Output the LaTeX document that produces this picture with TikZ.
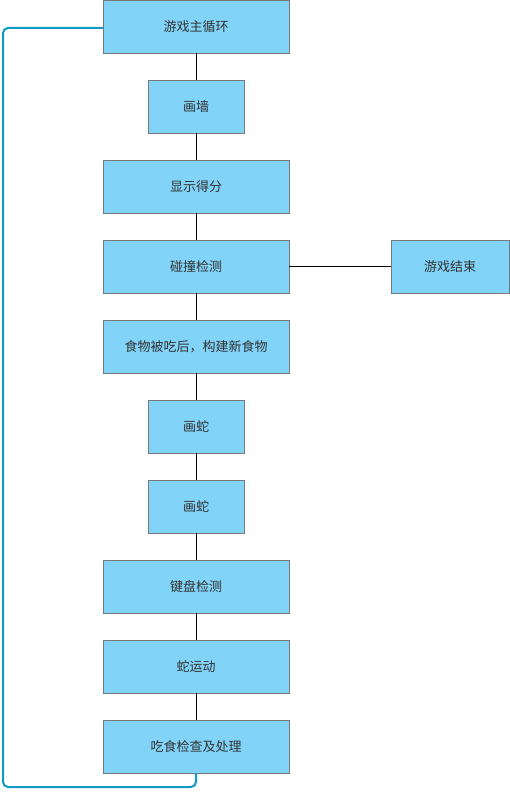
\documentclass[tikz,border=0pt]{standalone}
\usepackage{fontspec}
\newfontfamily\cjk{Noto Sans CJK SC}
\definecolor{boxfill}{HTML}{81D3F8}
\definecolor{boxline}{HTML}{797979}
\definecolor{loopblue}{HTML}{1199C8}
\definecolor{txt}{HTML}{333333}
\begin{document}
\begin{tikzpicture}[x=1pt, y=-1pt,
  every node/.style={font=\cjk\fontsize{13}{15}\selectfont, text=txt},
  wide/.style={draw=boxline, fill=boxfill, minimum width=186pt, minimum height=53pt, inner sep=0pt},
  narrow/.style={draw=boxline, fill=boxfill, minimum width=96pt, minimum height=53pt, inner sep=0pt},
  endbox/.style={draw=boxline, fill=boxfill, minimum width=118pt, minimum height=53pt, inner sep=0pt}]
\useasboundingbox (0,0) rectangle (510,792);
% Draw boxes
\node [wide] (loop) at (196,26.5) {游戏主循环};
\node [narrow] (wall) at (196,106.5) {画墙};
\node [wide] (score) at (196,186.5) {显示得分};
\node [wide] (hit) at (196,266.5) {碰撞检测};
\node [endbox] (over) at (450,266.5) {游戏结束};
\node [wide] (food) at (196,346.5) {食物被吃后，构建新食物};
\node [narrow] (snakea) at (196,426.5) {画蛇};
\node [narrow] (snakeb) at (196,506.5) {画蛇};
\node [wide] (keys) at (196,586.5) {键盘检测};
\node [wide] (move) at (196,666.5) {蛇运动};
\node [wide] (eat) at (196,746.5) {吃食检查及处理};
% Draw links
\draw (loop)--(wall);
\draw (wall)--(score);
\draw (score)--(hit);
\draw (hit)--(over);
\draw (hit)--(food);
\draw (food)--(snakea);
\draw (snakea)--(snakeb);
\draw (snakeb)--(keys);
\draw (keys)--(move);
\draw (move)--(eat);
% Draw loop back
\draw[loopblue, line width=2pt, rounded corners=5pt] (eat.south) -- (196,787) -- (3,787) -- (3,28) -- (loop.west |- 0,28);
\end{tikzpicture}
\end{document}
